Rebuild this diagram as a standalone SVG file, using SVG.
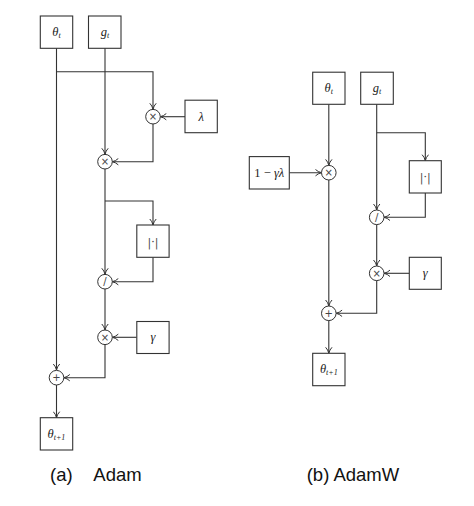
<svg xmlns="http://www.w3.org/2000/svg" width="474" height="506" viewBox="0 0 474 506">
<defs>
<marker id="arr" viewBox="0 0 8 8" refX="7.5" refY="4" markerWidth="8" markerHeight="8" markerUnits="userSpaceOnUse" orient="auto">
<path d="M1.5,0.8 Q4,3.2 7.5,4 Q4,4.8 1.5,7.2" fill="none" stroke="#333" stroke-width="1"/>
</marker>
</defs>
<style>
.box{fill:#fff;stroke:#333;stroke-width:1.1}
.op{fill:#fff;stroke:#333;stroke-width:1}
.ln{fill:none;stroke:#333;stroke-width:1.1}
.ar{fill:none;stroke:#333;stroke-width:1.1;marker-end:url(#arr)}
.m{font-family:"Liberation Serif","DejaVu Serif",serif;font-size:12.5px;fill:#222;text-anchor:middle}
.i{font-style:italic}
.sub{font-size:8px}
.abs{font-family:"DejaVu Serif",serif;font-size:11px;fill:#444;text-anchor:middle}
.sym{font-family:"DejaVu Sans",sans-serif;font-size:10px;fill:#444;text-anchor:middle}
.cap{font-family:"Liberation Sans",Arial,sans-serif;font-size:18.5px;fill:#111}
</style>
<rect width="474" height="506" fill="#fff"/>

<g id="connectors">
<path class="ar" d="M56.5,48 V370"/>
<path class="ar" d="M56.5,71.7 H153 V109.3"/>
<path class="ar" d="M185,116.7 H160.3"/>
<path class="ar" d="M105,48 V154.3"/>
<path class="ar" d="M153,124 V161.7 H112.3"/>
<path class="ar" d="M105,169 V274.3"/>
<path class="ar" d="M105,201 H153 V225"/>
<path class="ar" d="M153,257.3 V281.7 H112.3"/>
<path class="ar" d="M105,289 V330"/>
<path class="ar" d="M136.7,337.3 H112.3"/>
<path class="ar" d="M105,344.6 V377.7 H63.8"/>
<path class="ar" d="M56.5,385 V417.7"/>
<path class="ar" d="M328.8,104.3 V165.4"/>
<path class="ar" d="M289.3,172.7 H321.5"/>
<path class="ar" d="M328.8,180 V306"/>
<path class="ar" d="M376.7,104.3 V210"/>
<path class="ar" d="M376.7,132.7 H425.3 V160.7"/>
<path class="ar" d="M425.3,193 V217.3 H384"/>
<path class="ar" d="M376.7,224.6 V266"/>
<path class="ar" d="M409.3,273.3 H384"/>
<path class="ar" d="M376.7,280.6 V313.3 H336.1"/>
<path class="ar" d="M328.8,320.6 V353.3"/>
</g>

<g id="a_theta"><rect class="box" x="40.3" y="16" width="32.4" height="32.3"/><text class="m i" x="56.5" y="36">θ<tspan class="sub" dy="2">t</tspan></text></g>
<g id="a_g"><rect class="box" x="88.5" y="16" width="32.5" height="32.3"/><text class="m i" x="105" y="36">g<tspan class="sub" dy="2">t</tspan></text></g>
<g id="a_mul1"><circle class="op" cx="153" cy="116.7" r="7.3"/><text class="sym" x="153" y="120.3">×</text></g>
<g id="a_lambda"><rect class="box" x="185" y="100.2" width="32.3" height="32.5"/><text class="m i" x="201.2" y="120.8">λ</text></g>
<g id="a_mul2"><circle class="op" cx="105" cy="161.7" r="7.3"/><text class="sym" x="105" y="165.3">×</text></g>
<g id="a_abs"><rect class="box" x="136.8" y="225" width="32.3" height="32.3"/><text class="abs" x="153" y="245.5">|·|</text></g>
<g id="a_div"><circle class="op" cx="105" cy="281.7" r="7.3"/><text class="sym" x="105" y="285.3">/</text></g>
<g id="a_mul3"><circle class="op" cx="105" cy="337.3" r="7.3"/><text class="sym" x="105" y="340.9">×</text></g>
<g id="a_gamma"><rect class="box" x="136.8" y="321.5" width="32.3" height="32"/><text class="m i" x="153" y="341">γ</text></g>
<g id="a_add"><circle class="op" cx="56.5" cy="377.7" r="7.3"/><text class="sym" x="56.5" y="381.3">+</text></g>
<g id="a_out"><rect class="box" x="40.3" y="417.7" width="32.4" height="32.3"/><text class="m i" x="56.5" y="437.5">θ<tspan class="sub" dy="2">t+1</tspan></text></g>

<g id="b_theta"><rect class="box" x="312.7" y="72.2" width="32.3" height="32.1"/><text class="m i" x="328.8" y="92">θ<tspan class="sub" dy="2">t</tspan></text></g>
<g id="b_g"><rect class="box" x="360.7" y="72.2" width="32.6" height="32.1"/><text class="m i" x="376.9" y="92">g<tspan class="sub" dy="2">t</tspan></text></g>
<g id="b_decay"><rect class="box" x="249.3" y="156.6" width="40" height="32.4"/><text class="m" x="269.3" y="177">1 − <tspan class="i">γλ</tspan></text></g>
<g id="b_mul1"><circle class="op" cx="328.8" cy="172.7" r="7.3"/><text class="sym" x="328.8" y="176.3">×</text></g>
<g id="b_abs"><rect class="box" x="409.3" y="160.7" width="32" height="32.3"/><text class="abs" x="425.3" y="181">|·|</text></g>
<g id="b_div"><circle class="op" cx="376.7" cy="217.3" r="7.3"/><text class="sym" x="376.7" y="220.9">/</text></g>
<g id="b_mul2"><circle class="op" cx="376.7" cy="273.3" r="7.3"/><text class="sym" x="376.7" y="276.9">×</text></g>
<g id="b_gamma"><rect class="box" x="409.3" y="257.3" width="32" height="32"/><text class="m i" x="425.3" y="277">γ</text></g>
<g id="b_add"><circle class="op" cx="328.8" cy="313.3" r="7.3"/><text class="sym" x="328.8" y="316.9">+</text></g>
<g id="b_out"><rect class="box" x="312.7" y="353.3" width="32.3" height="32.4"/><text class="m i" x="328.8" y="373">θ<tspan class="sub" dy="2">t+1</tspan></text></g>

<g id="captions">
<text class="cap" x="50" y="481">(a)</text>
<text class="cap" x="93.3" y="481">Adam</text>
<text class="cap" x="306.7" y="481">(b) AdamW</text>
</g>
</svg>
